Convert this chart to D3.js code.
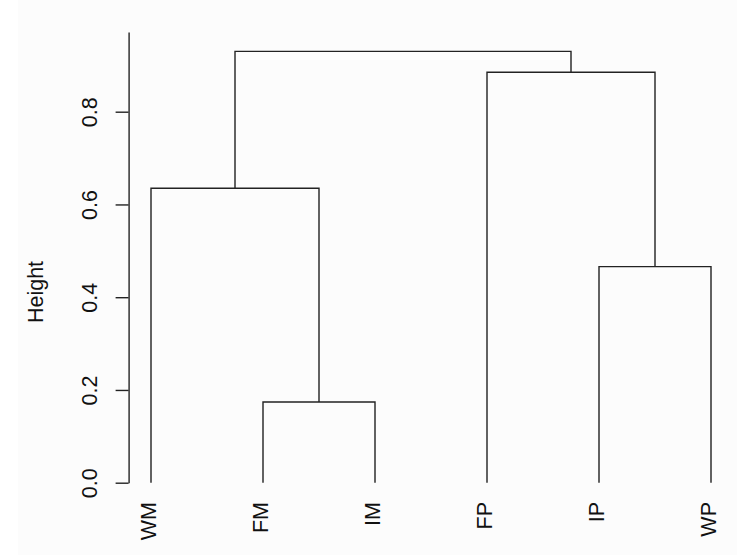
<!DOCTYPE html>
<html>
<head>
<meta charset="utf-8">
<script src="https://cdn.jsdelivr.net/npm/d3@7"></script>
<style>
  html, body { margin: 0; padding: 0; background: #ffffff; }
  svg { display: block; }
  text { font-family: "Liberation Sans", Arial, sans-serif; fill: #111; }
</style>
</head>
<body>
<svg id="chart" width="737" height="555"></svg>
<script>
// Leaf labels in dendrogram order
const leafLabels = ["WM", "FM", "IM", "FP", "IP", "WP"];
// Merge steps (R hclust style: negative = leaf index (1-based), positive = earlier merge step)
const mergeLeft  = [-2, -5, -1, -4, 3];
const mergeRight = [-3, -6, 1, 2, 4];
const mergeHeights = [0.174, 0.466, 0.635, 0.885, 0.930];
// Y axis ticks
const yTicks = [0.0, 0.2, 0.4, 0.6, 0.8];
const yAxisTitle = "Height";

const svg = d3.select("#chart");
const W = 737, H = 555;

svg.append("rect").attr("x", 18).attr("y", 0).attr("width", W - 18).attr("height", H)
  .attr("fill", "#fcfcfc");

const x = d3.scaleLinear().domain([0.8, 6.2]).range([128.6, 733.4]);
const y = d3.scaleLinear().domain([0, 0.972]).range([482.7, 482.7 - 0.972 * 463.75]);

// Build hierarchy from merge arrays
function leafNode(i) { return { name: leafLabels[i - 1], order: i, height: 0 }; }
const steps = [];
mergeHeights.forEach((h, k) => {
  const ref = v => v < 0 ? leafNode(-v) : steps[v - 1];
  steps.push({ height: h, children: [ref(mergeLeft[k]), ref(mergeRight[k])] });
});
const root = d3.hierarchy(steps[steps.length - 1]);
root.eachAfter(n => {
  n.px = n.children ? d3.mean(n.children, c => c.px) : n.data.order;
  n.py = n.data.height;
});

const g = svg.append("g");
const lineStyle = sel => sel.attr("fill", "none").attr("stroke", "#222").attr("stroke-width", 1.4);

// Links: horizontal bar at parent height + vertical legs down to children heights
root.descendants().filter(n => n.children).forEach(n => {
  const pts = [];
  const [a, b] = n.children;
  g.append("path")
    .attr("d", `M${x(a.px)},${y(a.py)}V${y(n.py)}H${x(b.px)}V${y(b.py)}`)
    .call(lineStyle);
});

// Leaf labels
g.selectAll("text.leaf")
  .data(root.leaves())
  .join("text")
  .attr("class", "leaf")
  .attr("transform", d => `translate(${x(d.px) + 5},502) rotate(-90)`)
  .attr("text-anchor", "end")
  .attr("font-size", 21.5)
  .text(d => d.data.name);

// Y axis
const axisG = svg.append("g")
  .attr("transform", "translate(128.6,0)")
  .call(d3.axisLeft(y).tickValues(yTicks).tickSize(13).tickSizeOuter(0).tickFormat(d3.format(".1f")));
axisG.select(".domain").attr("stroke", "#222").attr("stroke-width", 1.4);
axisG.selectAll(".tick line").attr("stroke", "#222").attr("stroke-width", 1.4);
axisG.selectAll(".tick text")
  .attr("transform", "rotate(-90)")
  .attr("x", 0).attr("y", -32).attr("dy", 0)
  .attr("text-anchor", "middle")
  .attr("font-size", 21.5)
  .attr("font-family", "Liberation Sans, Arial, sans-serif")
  .attr("fill", "#111");

svg.append("text")
  .attr("transform", "translate(43,292) rotate(-90)")
  .attr("text-anchor", "middle")
  .attr("font-size", 21.5)
  .text(yAxisTitle);
</script>
</body>
</html>
